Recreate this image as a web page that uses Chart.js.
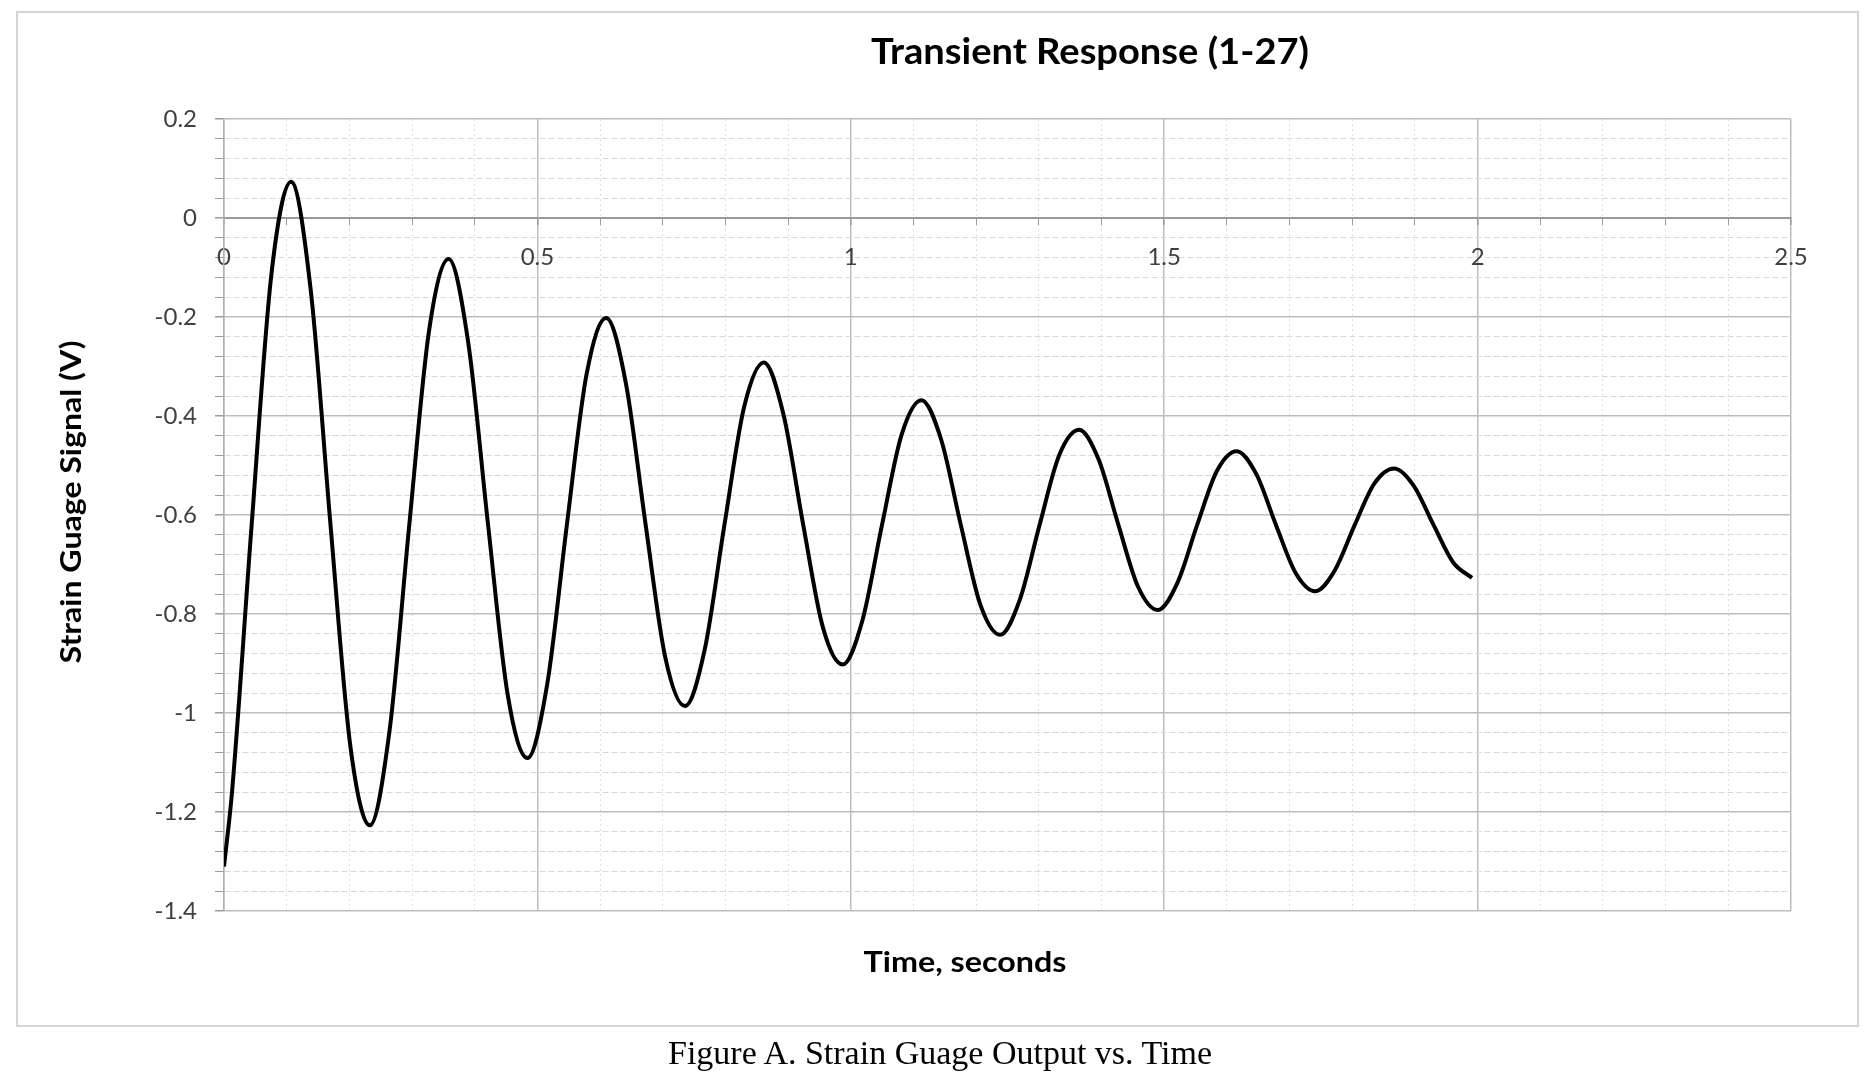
<!DOCTYPE html>
<html>
<head>
<meta charset="utf-8">
<script src="https://cdn.jsdelivr.net/npm/chart.js@4.4.1/dist/chart.umd.min.js"></script>
<style>
  html, body { margin: 0; padding: 0; background: #fff; }
  #wrap { position: relative; width: 1870px; height: 1090px; overflow: hidden; }
  #frame { position: absolute; left: 16px; top: 11px; width: 1839px; height: 1012px; border: 2px solid #d4d4d4; }
  #chart { position: absolute; left: 0; top: 0; }
  #caption { position: absolute; left: 0; top: 1036px; width: 1880px; text-align: center;
    font-family: "Liberation Serif", "Times New Roman", serif; font-size: 34px; line-height: 1; color: #000; }
</style>
</head>
<body>
<div id="wrap">
  <div id="frame"></div>
  <canvas id="chart" width="1870" height="1090"></canvas>
  <div id="caption">Figure A. Strain Guage Output vs. Time</div>
</div>
<script>
// values
var chartTitle = 'Transient Response (1-27)';
var xTitle = 'Time, seconds';
var yTitle = 'Strain Guage Signal (V)';

var timeSec = [0, 0.0127, 0.0441, 0.0756, 0.107, 0.1384, 0.1699, 0.2013, 0.2327, 0.2641, 0.2956, 0.327,
  0.3584, 0.3898, 0.4213, 0.4527, 0.4841, 0.5155, 0.547, 0.5784, 0.6098, 0.6412, 0.6727, 0.7041,
  0.7355, 0.7669, 0.7984, 0.8298, 0.8612, 0.8926, 0.9241, 0.9555, 0.9869, 1.0183, 1.0498, 1.0812,
  1.1126, 1.144, 1.1755, 1.2069, 1.2383, 1.2697, 1.3012, 1.3326, 1.364, 1.3954, 1.4269, 1.4583,
  1.4897, 1.5211, 1.5526, 1.584, 1.6154, 1.6468, 1.6783, 1.7097, 1.7411, 1.7725, 1.804, 1.8354,
  1.8668, 1.8982, 1.9297, 1.9611, 1.991];
var signalV = [-1.310, -1.161, -0.620, -0.114, 0.073, -0.146, -0.620, -1.064, -1.227, -1.036, -0.620, -0.229,
  -0.083, -0.253, -0.620, -0.964, -1.091, -0.943, -0.620, -0.316, -0.202, -0.334, -0.620, -0.888,
  -0.986, -0.872, -0.620, -0.382, -0.292, -0.397, -0.620, -0.827, -0.902, -0.814, -0.620, -0.437,
  -0.368, -0.447, -0.620, -0.782, -0.842, -0.771, -0.620, -0.479, -0.428, -0.488, -0.620, -0.745,
  -0.792, -0.737, -0.620, -0.511, -0.471, -0.517, -0.620, -0.717, -0.754, -0.711, -0.620, -0.536,
  -0.506, -0.541, -0.620, -0.696, -0.727];

var xRange = [0, 2.5];
var xMajor = 0.5, xMinor = 0.1;
var yRange = [-1.4, 0.2];
var yMajor = 0.2, yMinor = 0.04;

function isMajor(v, step) {
    var r = v / step;
    return Math.abs(r - Math.round(r)) < 1e-6;
}

var points = [];
for (var i = 0; i < timeSec.length; i++) {
    points.push({x: timeSec[i], y: signalV[i]});
}

// the reference text is a bit wider than Lato, so stretch it to the measured width
function drawText(c, text, x, y, width, angle) {
    var w = c.measureText(text).width;
    c.save();
    c.translate(x, y);
    if (angle) {
        c.rotate(angle);
    }
    c.scale(width / w, 1);
    c.fillText(text, 0, 0);
    c.restore();
}

var textPlugin = {
    id: 'figureText',
    afterDraw: function(chart) {
        var c = chart.ctx;
        c.save();
        c.fillStyle = '#000';
        c.textAlign = 'center';
        c.textBaseline = 'alphabetic';
        c.font = 'bold 36px Lato';
        drawText(c, chartTitle, 1090, 64, 438);
        c.font = 'bold 28px Lato';
        drawText(c, xTitle, 965, 972, 203);
        drawText(c, yTitle, 81, 502, 323, -Math.PI / 2);
        c.restore();
    }
};

var tickFont = {family: 'Lato', size: 24};

var ctx = document.getElementById('chart').getContext('2d');
var chart = new Chart(ctx, {
    type: 'line',
    data: {
        datasets: [{
            data: points,
            borderColor: '#000',
            borderWidth: 4,
            pointRadius: 0,
            fill: false,
            cubicInterpolationMode: 'monotone'
        }]
    },
    options: {
        responsive: false,
        animation: false,
        layout: {padding: {left: 0, top: 119, right: 79, bottom: 179}},
        plugins: {
            legend: {display: false},
            tooltip: {enabled: false},
            title: {display: false}
        },
        scales: {
            x: {
                type: 'linear',
                min: xRange[0],
                max: xRange[1],
                position: {y: 0},
                ticks: {
                    stepSize: xMinor,
                    autoSkip: false,
                    maxRotation: 0,
                    padding: 19,
                    color: '#404040',
                    font: tickFont,
                    callback: function(v) {
                        return isMajor(v, xMajor) ? String(+v.toFixed(1)) : '';
                    }
                },
                grid: {
                    color: function(c) {
                        return c.tick && isMajor(c.tick.value, xMajor) ? '#bdbdbd' : '#e0e0e0';
                    },
                    lineWidth: function(c) {
                        return c.tick && isMajor(c.tick.value, xMajor) ? 1.5 : 1;
                    },
                    tickLength: 6,
                    tickColor: '#9a9a9a'
                },
                border: {
                    color: '#9a9a9a',
                    width: 2,
                    dash: function(c) {
                        return c.tick && !isMajor(c.tick.value, xMajor) ? [2, 3] : [];
                    }
                }
            },
            y: {
                type: 'linear',
                min: yRange[0],
                max: yRange[1],
                afterFit: function(scale) { scale.width = 224; },
                ticks: {
                    stepSize: yMinor,
                    maxTicksLimit: 100,
                    autoSkip: false,
                    padding: 18,
                    color: '#404040',
                    font: tickFont,
                    callback: function(v) {
                        return isMajor(v, yMajor) ? String(+v.toFixed(1)) : '';
                    }
                },
                grid: {
                    color: function(c) {
                        return c.tick && isMajor(c.tick.value, yMajor) ? '#bdbdbd' : '#d8d8d8';
                    },
                    lineWidth: function(c) {
                        return c.tick && isMajor(c.tick.value, yMajor) ? 1.5 : 1;
                    },
                    tickLength: 9,
                    tickColor: '#9a9a9a'
                },
                border: {
                    color: '#b0b0b0',
                    width: 1.5,
                    dash: function(c) {
                        return c.tick && !isMajor(c.tick.value, yMajor) ? [6, 3] : [];
                    }
                }
            }
        }
    },
    plugins: [textPlugin]
});
</script>
</body>
</html>
